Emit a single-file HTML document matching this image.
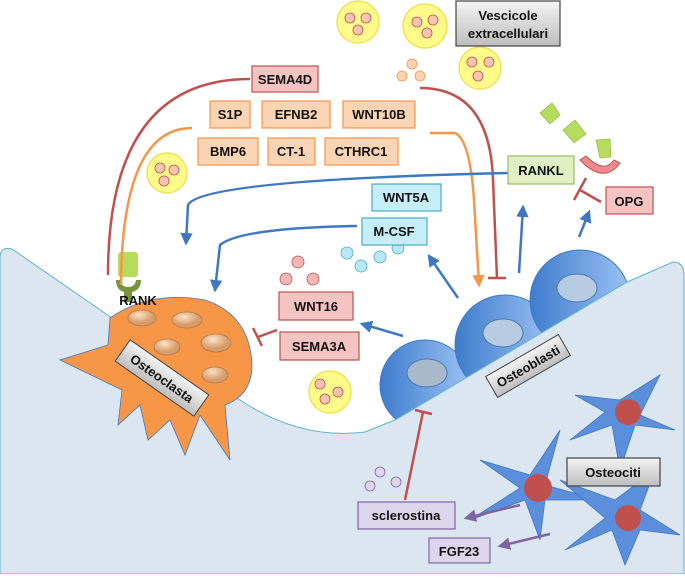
<!DOCTYPE html>
<html><head><meta charset="utf-8"><style>
body{margin:0;background:#fff}
text{font-family:"Liberation Sans",sans-serif;font-weight:bold;font-size:13px;fill:#111}
</style></head><body>
<svg width="685" height="574" viewBox="0 0 685 574" xmlns="http://www.w3.org/2000/svg">
<defs>
<linearGradient id="cell" x1="0" x2="1"><stop offset="0" stop-color="#3f7ccc"/><stop offset="1" stop-color="#9cc2f5"/></linearGradient>
<linearGradient id="gray" x1="0" y1="0" x2="0" y2="1"><stop offset="0" stop-color="#f4f4f4"/><stop offset="1" stop-color="#bdbdbd"/></linearGradient>
<radialGradient id="nuc" cx="0.4" cy="0.3"><stop offset="0" stop-color="#fde2c6"/><stop offset="1" stop-color="#d79c6a"/></radialGradient>
<marker id="ab" viewBox="0 0 10 10" refX="8" refY="5" markerWidth="5" markerHeight="5" orient="auto"><path d="M0,0L10,5L0,10z" fill="#3f78c2"/></marker>
<marker id="ao" viewBox="0 0 10 10" refX="8" refY="5" markerWidth="5" markerHeight="5" orient="auto"><path d="M0,0L10,5L0,10z" fill="#f79646"/></marker>
<marker id="ap" viewBox="0 0 10 10" refX="8" refY="5" markerWidth="5" markerHeight="5" orient="auto"><path d="M0,0L10,5L0,10z" fill="#8064a2"/></marker>
</defs>
<!-- osteoblast cells -->
<circle cx="425" cy="385" r="45" fill="url(#cell)" stroke="#3f78c2"/>
<circle cx="505" cy="345" r="50" fill="url(#cell)" stroke="#3f78c2"/>
<circle cx="580" cy="300" r="50" fill="url(#cell)" stroke="#3f78c2"/>
<ellipse cx="427" cy="373" rx="20" ry="14" fill="#a9b9cc" stroke="#4a78b0"/>
<ellipse cx="503" cy="333" rx="20" ry="14" fill="#b7cbe2" stroke="#4a78b0"/>
<ellipse cx="577" cy="288" rx="20" ry="14" fill="#b7cbe2" stroke="#4a78b0"/>
<!-- bone -->
<path d="M0,574 L0,258 Q0,246 12,249 L112,318 L240,400 Q300,440 365,432 L395,420 L627,282 L673,262 Q684,262 684,275 L684,574 Z" fill="#dce6f1" stroke="#5ab4d0" stroke-width="1"/>
<!-- osteocytes -->
<g fill="#5b8fdc" stroke="#3f78c2" stroke-width="0.8">
<path d="M480,460 L530,475 L560,430 L545,485 L600,500 L545,500 L540,540 L525,500 L470,520 L520,488 Z"/>
<path d="M575,395 L620,400 L660,375 L640,415 L675,430 L635,425 L620,470 L612,425 L570,440 L605,412 Z"/>
<path d="M560,480 L615,500 L655,470 L640,510 L680,535 L640,530 L625,565 L612,530 L565,550 L605,518 Z"/>
</g>
<circle cx="538" cy="488" r="14" fill="#c0504d"/>
<circle cx="628" cy="412" r="13" fill="#c0504d"/>
<circle cx="628" cy="518" r="13" fill="#c0504d"/>
<!-- osteoclast -->
<path d="M110,318 Q150,290 205,300 Q250,315 252,365 Q252,395 225,405 L230,460 L200,415 L185,455 L170,420 L148,440 L140,405 L118,425 L122,390 L60,360 L108,345 Z" fill="#f79646" stroke="#3f78c2" stroke-width="0.8"/>
<g fill="url(#nuc)" stroke="#b07a4a" stroke-width="0.8">
<ellipse cx="142" cy="318" rx="14" ry="8"/><ellipse cx="187" cy="320" rx="15" ry="8"/>
<ellipse cx="167" cy="347" rx="13" ry="8"/><ellipse cx="216" cy="343" rx="15" ry="9"/><ellipse cx="215" cy="375" rx="13" ry="8"/>
</g>
<!-- RANK receptor -->
<path d="M116,280 Q116,290 124,292 L124,302 L132,302 L132,292 Q141,290 141,280 L136,280 Q135,287 128,287 Q121,287 121,280Z" fill="#77933c"/>
<rect x="118" y="252" width="20" height="25" rx="3" fill="#b5dc5c"/>
<text x="138" y="305" text-anchor="middle" font-size="12">RANK</text>
<g transform="translate(162,378) rotate(35)"><rect x="-48" y="-13" width="96" height="26" fill="url(#gray)" stroke="#444"/><text x="0" y="5" text-anchor="middle">Osteoclasta</text></g>
<g transform="translate(528,366) rotate(-30)"><rect x="-42" y="-12" width="84" height="24" fill="url(#gray)" stroke="#444"/><text x="0" y="5" text-anchor="middle">Osteoblasti</text></g>
<!-- connectors -->
<g fill="none" stroke-width="2.5">
<path d="M250,79 Q108,79 108,275" stroke="#c0504d"/>
<path d="M420,88 Q490,88 493,180 L497,278" stroke="#c0504d"/>
<path d="M488,278 L506,278" stroke="#c0504d"/>
<path d="M192,128 Q122,128 121,285" stroke="#f79646"/>
<path d="M430,133 L455,133 Q470,140 474,200 L479,285" stroke="#f79646" marker-end="url(#ao)"/>
<path d="M508,173 Q200,180 188,205 L186,243" stroke="#3f78c2" marker-end="url(#ab)"/>
<path d="M357,226 Q240,228 220,245 L215,290" stroke="#3f78c2" marker-end="url(#ab)"/>
<path d="M458,298 L429,256" stroke="#3f78c2" marker-end="url(#ab)"/>
<path d="M403,336 L362,324" stroke="#3f78c2" marker-end="url(#ab)"/>
<path d="M519,273 L523,207" stroke="#3f78c2" marker-end="url(#ab)"/>
<path d="M579,237 L589,212" stroke="#3f78c2" marker-end="url(#ab)"/>
<path d="M601,202 L580,190 M574,200 L586,178" stroke="#c0504d"/>
<path d="M277,330 L258,337 M253,328 L262,346" stroke="#c0504d"/>
<path d="M405,500 L423,412 M415,410 L432,414" stroke="#c0504d"/>
<path d="M520,505 L466,518" stroke="#8064a2" marker-end="url(#ap)"/>
<path d="M550,534 L500,546" stroke="#8064a2" marker-end="url(#ap)"/>
</g>
<!-- RANKL pieces -->
<g fill="#b5dc5c" stroke="#8cb03a" stroke-width="0.6">
<path d="M540,113 L552,103 L560,115 L550,124Z"/>
<path d="M563,130 L575,120 L586,134 L574,143Z"/>
<path d="M596,140 L610,139 L611,157 L600,158Z"/>
</g>
<path d="M586,156 Q604,174 614,160 L620,163 Q604,185 580,160Z" fill="#f08a8a" stroke="#c0504d"/>
<!-- vesicles -->
<g fill="#fffb8a" stroke="#f0e25a" stroke-width="1.5">
<circle cx="358" cy="22" r="21"/><circle cx="425" cy="26" r="22"/><circle cx="480" cy="68" r="21"/>
<circle cx="167" cy="173" r="20"/><circle cx="330" cy="392" r="21"/>
</g>
<g fill="#f9c5b0" stroke="#c0504d" stroke-width="0.8">
<circle cx="350" cy="18" r="5"/><circle cx="366" cy="18" r="5"/><circle cx="358" cy="30" r="5"/>
<circle cx="417" cy="22" r="5"/><circle cx="433" cy="20" r="5"/><circle cx="427" cy="33" r="5"/>
<circle cx="472" cy="62" r="5"/><circle cx="489" cy="62" r="5"/><circle cx="478" cy="76" r="5"/>
<circle cx="160" cy="168" r="5"/><circle cx="174" cy="170" r="5"/><circle cx="164" cy="181" r="5"/>
<circle cx="320" cy="384" r="5"/><circle cx="338" cy="392" r="5"/><circle cx="325" cy="399" r="5"/>
</g>
<g fill="#fbd4b4" stroke="#f79646" stroke-width="0.8">
<circle cx="412" cy="64" r="5"/><circle cx="402" cy="76" r="5"/><circle cx="420" cy="76" r="5"/>
</g>
<g fill="#f4b6b6" stroke="#c0504d" stroke-width="0.8">
<circle cx="298" cy="262" r="6"/><circle cx="286" cy="279" r="6"/><circle cx="313" cy="279" r="6"/>
</g>
<g fill="#b7e8f5" stroke="#4bacc6" stroke-width="0.8">
<circle cx="347" cy="253" r="6"/><circle cx="361" cy="266" r="6"/><circle cx="380" cy="257" r="6"/><circle cx="398" cy="248" r="6"/>
</g>
<g fill="#ddd5ec" stroke="#8064a2" stroke-width="0.8">
<circle cx="380" cy="472" r="5"/><circle cx="396" cy="482" r="5"/><circle cx="370" cy="486" r="5"/>
</g>
<!-- boxes -->
<g stroke-width="1.2">
<rect x="456" y="1" width="104" height="45" fill="url(#gray)" stroke="#444"/>
<rect x="252" y="66" width="66" height="26" fill="#f6c3c3" stroke="#c0504d"/>
<g fill="#fbd4b4" stroke="#f79646">
<rect x="210" y="101" width="40" height="27"/><rect x="262" y="101" width="68" height="27"/><rect x="343" y="101" width="72" height="27"/>
<rect x="198" y="138" width="60" height="27"/><rect x="268" y="138" width="47" height="27"/><rect x="325" y="138" width="73" height="27"/>
</g>
<rect x="508" y="156" width="66" height="28" fill="#e0efc4" stroke="#9bbb59"/>
<rect x="606" y="187" width="47" height="27" fill="#f6c3c3" stroke="#c0504d"/>
<rect x="372" y="184" width="69" height="27" fill="#c6eef8" stroke="#4bacc6"/>
<rect x="362" y="218" width="65" height="27" fill="#c6eef8" stroke="#4bacc6"/>
<rect x="279" y="292" width="74" height="28" fill="#f6c3c3" stroke="#c0504d"/>
<rect x="280" y="332" width="79" height="28" fill="#f6c3c3" stroke="#c0504d"/>
<rect x="358" y="502" width="97" height="27" fill="#ddd5ec" stroke="#8064a2"/>
<rect x="429" y="538" width="61" height="25" fill="#ddd5ec" stroke="#8064a2"/>
<rect x="567" y="458" width="93" height="28" fill="url(#gray)" stroke="#444"/>
</g>
<g text-anchor="middle">
<text x="508" y="20">Vescicole</text><text x="508" y="38">extracellulari</text>
<text x="285" y="84">SEMA4D</text>
<text x="230" y="119">S1P</text><text x="296" y="119">EFNB2</text><text x="379" y="119">WNT10B</text>
<text x="228" y="156">BMP6</text><text x="291" y="156">CT-1</text><text x="361" y="156">CTHRC1</text>
<text x="541" y="175">RANKL</text><text x="629" y="206">OPG</text>
<text x="406" y="202">WNT5A</text><text x="394" y="236">M-CSF</text>
<text x="316" y="311">WNT16</text><text x="319" y="351">SEMA3A</text>
<text x="406" y="520">sclerostina</text><text x="459" y="556">FGF23</text>
<text x="613" y="477">Osteociti</text>
</g>
</svg>
</body></html>
